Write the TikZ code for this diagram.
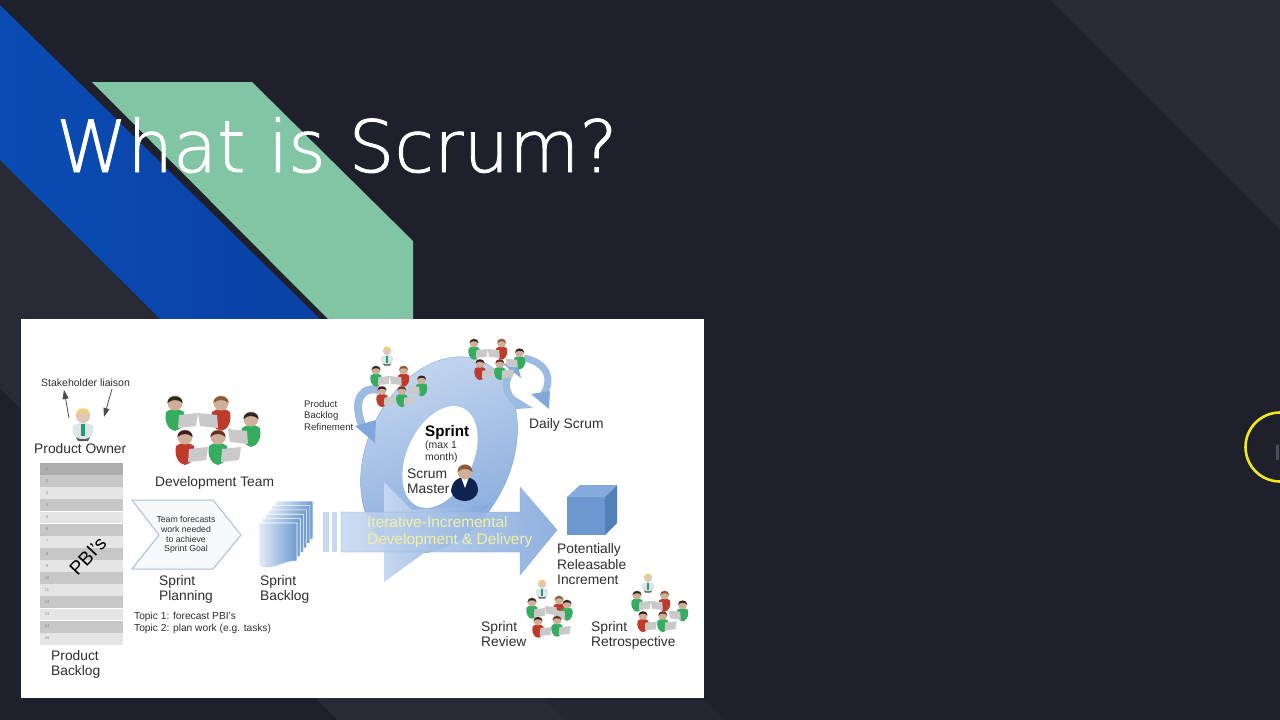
\documentclass[tikz,border=0pt]{standalone}
\usepackage{fontspec}
\setmainfont{Liberation Sans}
\newfontfamily\titlefont[FakeBold=1.2]{DejaVu Sans ExtraLight}
\usetikzlibrary{arrows.meta}
\definecolor{bgdark}{HTML}{1E202B}
\definecolor{bglite}{HTML}{282A35}
\definecolor{bgfaint}{HTML}{23252F}
\definecolor{royalL}{HTML}{0A4CB4}
\definecolor{royalR}{HTML}{0B41A5}
\definecolor{mint}{HTML}{81C5A4}
\definecolor{skin}{HTML}{CFAF98}
\definecolor{shgreen}{HTML}{35AC5F}
\definecolor{shred}{HTML}{BE3B2B}
\definecolor{lap}{HTML}{C9C9C9}
\definecolor{ringb}{HTML}{9DBBE2}
\definecolor{ringL}{HTML}{C6D8F0}
\definecolor{ringR}{HTML}{82A7DB}
\definecolor{pageL}{HTML}{E2ECF8}
\definecolor{pageR}{HTML}{6F9BD0}
\definecolor{cubeF}{HTML}{6C98CF}
\definecolor{cubeT}{HTML}{84ABDB}
\definecolor{cubeS}{HTML}{5180B8}
\definecolor{chevF}{HTML}{F7FAFD}
\definecolor{chevD}{HTML}{A8BEDD}
\definecolor{txt}{HTML}{2E2E2E}
\definecolor{yel}{HTML}{F3F0A0}
\definecolor{pointer}{HTML}{F2E81E}
\definecolor{navy}{HTML}{0F2350}
\definecolor{blond}{HTML}{F0D080}
\definecolor{ownshirt}{HTML}{DCE6EA}
\definecolor{hairA}{HTML}{2C2822}
\definecolor{hairB}{HTML}{8A5A3A}
\definecolor{hairC}{HTML}{3A1E1E}
\definecolor{hairD}{HTML}{6B3328}
\newcommand{\dude}[6]{%
 \begin{scope}[shift={(#1,#2)},scale=#3]
  \fill[#5] (-9,9) .. controls (-11,18) and (-7,27) .. (0,28) .. controls (7,27) and (11,18) .. (9,9) .. controls (5,5) and (-5,5) .. cycle;
  \fill[skin] (0,0) circle [radius=7.5];
  \fill[#4] (-7.6,0) .. controls (-7.6,-9) and (7.6,-9) .. (7.6,0) .. controls (3,-4) and (-3,-4) .. cycle;
  \fill[lap] (#6*4,12) -- (#6*23,10) -- (#6*21,23) -- (#6*3,25) -- cycle;
 \end{scope}}
\newcommand{\team}[3]{%
 \dude{#1}{#2}{#3}{hairA}{shgreen}{1}
 \dude{#1+46*#3}{#2}{#3}{hairB}{shred}{-1}
 \dude{#1+76*#3}{#2+16*#3}{#3}{hairA}{shgreen}{-1}
 \dude{#1+10*#3}{#2+34*#3}{#3}{hairC}{shred}{1}
 \dude{#1+43*#3}{#2+34*#3}{#3}{hairD}{shgreen}{1}}
\newcommand{\owner}[3]{%
 \begin{scope}[shift={(#1,#2)},scale=#3]
  \fill[black!65] (-7,21) -- (7,21) -- (5,25) -- (-5,25) -- cycle;
  \fill[ownshirt] (-10,10) .. controls (-12,18) and (-8,23) .. (0,23) .. controls (8,23) and (12,18) .. (10,10) .. controls (5,6) and (-5,6) .. cycle;
  \fill[shgreen!70!teal] (-1.6,8) -- (1.6,8) -- (1.6,20) -- (-1.6,20) -- cycle;
  \fill[skin!70!white] (0,0) circle [radius=7];
  \fill[blond] (-7,-1) .. controls (-7,-10) and (7,-10) .. (7,-1) .. controls (3,-4) and (-3,-4) .. cycle;
 \end{scope}}
\tikzset{
 lab/.style={anchor=base west,inner sep=0pt,text=txt,font=\fontsize{13.8pt}{15pt}\selectfont,align=left},
 smalllab/.style={anchor=base west,inner sep=0pt,text=txt,font=\fontsize{10.2pt}{12pt}\selectfont},
 rownum/.style={inner sep=0pt,text=black!50,font=\fontsize{4pt}{4pt}\selectfont},
 blackarrow/.style={draw=black!70,line width=0.8pt,-{Triangle[length=9pt,width=6pt]}},
 yellab/.style={anchor=base west,inner sep=0pt,text=yel,font=\fontsize{15.4pt}{16pt}\selectfont}
}
\begin{document}
\begin{tikzpicture}[x=1pt,y=-1pt]
\useasboundingbox (0,0) rectangle (1280,720);
\clip (0,0) rectangle (1280,720);
\fill[bgdark] (0,0) rectangle (1280,720);
\fill[bglite] (1050,0) -- (1280,230) -- (1280,0) -- cycle;
\fill[bglite] (0,160) -- (160,320) -- (20,320) -- (20,408) -- (0,388) -- cycle;
\fill[bglite] (316,698) -- (543,698) -- (566,720) -- (338,720) -- cycle;
\fill[bgfaint] (543,698) -- (703,698) -- (725,720) -- (566,720) -- cycle;
\shade[left color=royalL,right color=royalR] (0,5) -- (320,319) -- (160,319) -- (0,160) -- cycle;
\fill[mint] (92,82) -- (252,82) -- (413,241) -- (413,319) -- (328,319) -- cycle;
\node[anchor=base west,inner sep=0pt,text=white,font=\titlefont\fontsize{72pt}{80pt}\selectfont] (title) at (56,172) {What is Scrum?};
% slide image panel
\fill[white] (21,319) rectangle (704,698);
% yellow pointer
\draw[draw=pointer,line width=2.6pt] (1280,447) circle [radius=34.5];
\fill[bgdark!80!white] (1276,445) rectangle (1279,460);
% product owner
\owner{83}{416}{1}
\node[smalllab,font=\fontsize{10.5pt}{12pt}\selectfont] (stake) at (41,386) {Stakeholder liaison};
\coordinate (ownerL) at (69,418);
\coordinate (ownerR) at (104,417);
\draw[blackarrow] (ownerL) -- (64,390);
\draw[blackarrow] (112,389) -- (ownerR);
\node[lab] (po) at (34,453.5) {Product Owner};
% product backlog table
\foreach \i in {1,...,15}{
 \pgfmathsetmacro{\ry}{463+(\i-1)*12.13}
 \ifnum\i=1 \def\rc{black!32}\else\ifodd\i \def\rc{black!10}\else \def\rc{black!22}\fi\fi
 \fill[\rc] (40,\ry) rectangle (59.6,\ry+11.9);
 \fill[\rc] (60.4,\ry) rectangle (123,\ry+11.9);
 \node[rownum] (n\i) at (47,\ry+5.8) {\i};
}
\node[inner sep=0pt,rotate=47,text=black,font=\fontsize{19pt}{20pt}\selectfont] (pbi) at (88,556) {PBI's};
\node[lab] (pb) at (51,660) {Product};
\node[lab] (pb2) at (51,675) {Backlog};
% development team
\team{175}{403}{1}
\node[lab] (dev) at (155,486) {Development Team};
% sprint planning chevron
\filldraw[fill=chevF,draw=chevD,line width=1pt] (132,500) -- (213,500) -- (241,535) -- (213,569) -- (132,569) -- (159,535) -- cycle;
\node[inner sep=0pt,align=center,text=txt,font=\fontsize{8.7pt}{9.7pt}\selectfont] (fc) at (186,535) {Team forecasts\\work needed\\to achieve\\Sprint Goal};
\node[lab] (sp) at (159,585) {Sprint};
\node[lab] (sp2) at (159,600) {Planning};
\node[smalllab] (t1) at (134,619) {Topic 1: forecast PBI's};
\node[smalllab] (t2) at (134,631) {Topic 2: plan work (e.g. tasks)};
% sprint backlog pages
\foreach \k in {5,4,3,2,1,0}{
 \shade[left color=pageL,right color=pageR,draw=white,line width=0.6pt]
  (259+3.2*\k,523-4.4*\k) -- (297+3.2*\k,523-4.4*\k) -- (297+3.2*\k,561-4.4*\k) .. controls (285+3.2*\k,560-4.4*\k) and (272+3.2*\k,572-4.4*\k) .. (259+3.2*\k,566-4.4*\k) -- cycle;
}
\node[lab] (sb) at (260,585) {Sprint};
\node[lab] (sb2) at (260,600) {Backlog};
% sprint cycle
\shade[left color=ringL,right color=ringR,shading angle=20,draw=ringR,line width=0.4pt] (439,455) ellipse [x radius=72,y radius=103,rotate=-25];
\shade[left color=ringL,right color=ringR,draw=none] (384,482) -- (412,510) -- (490,505) -- (384,582) -- cycle;
\fill[white] (440,457) ellipse [x radius=33,y radius=54,rotate=-25];
% refinement arrow
\draw[ringb,line width=8pt] (382,391) .. controls (362,384) and (352,400) .. (362,425);
\fill[ringR] (355,426) -- (375,443) -- (376,420) -- cycle;
% daily scrum arrows
\draw[ringb,line width=7pt] (524,358) .. controls (545,362) and (556,378) .. (541,398);
\fill[ringR] (531,394) -- (549,409) -- (550,391) -- cycle;
\draw[ringb,line width=7pt] (518,404) .. controls (502,394) and (504,376) .. (515,368);
\fill[ringR] (503,364) -- (517,362) -- (521,378) -- cycle;
\fill[ringb] (512,395) -- (533,408) -- (515,409) -- cycle;
% big arrow
\fill[ringL] (323,512) rectangle (329,552);
\fill[ringL] (332,512) rectangle (337,552);
\shade[left color=ringL,right color=ringR,fill opacity=0.88,draw=ringR,line width=0.3pt] (341,512) -- (520,512) -- (520,487) -- (557,530) -- (520,575) -- (520,552) -- (341,552) -- cycle;
\node[yellab] (it) at (367,527) {Iterative-Incremental};
\node[yellab] (it2) at (367,544) {Development \& Delivery};
% centre labels
\node[lab,font=\bfseries\fontsize{15.2pt}{16pt}\selectfont,text=black] (sprint) at (425,436) {Sprint};
\node[smalllab,font=\fontsize{10.4pt}{12pt}\selectfont] (mx) at (425,448) {(max 1};
\node[smalllab,font=\fontsize{10.4pt}{12pt}\selectfont] (mx2) at (425,460) {month)};
\node[lab] (sm) at (407,478) {Scrum};
\node[lab] (sm2) at (407,493) {Master};
% scrum master
\fill[navy] (451,491) .. controls (452,481) and (458,477) .. (465,477) .. controls (472,477) and (478,481) .. (478,491) .. controls (477,498) and (470,501) .. (465,501) .. controls (459,501) and (452,498) .. (451,491) -- cycle;
\fill[white] (461,477) -- (469,477) -- (465,488) -- cycle;
\fill[skin] (465,472) circle [radius=7.5];
\fill[hairB] (457.5,472) .. controls (457.5,462) and (472.5,462) .. (472.5,472) .. controls (468,468) and (462,468) .. cycle;
% upper teams
\owner{387}{351}{0.58}
\team{376}{370}{0.6}
\team{474}{343}{0.6}
\node[smalllab,font=\fontsize{9.6pt}{11pt}\selectfont] (pbr1) at (304,407) {Product};
\node[smalllab,font=\fontsize{9.6pt}{11pt}\selectfont] (pbr2) at (304,418) {Backlog};
\node[smalllab,font=\fontsize{9.6pt}{11pt}\selectfont] (pbr3) at (304,430) {Refinement};
\node[lab] (ds) at (529,428) {Daily Scrum};
% increment cube
\fill[cubeF] (567,497) rectangle (605,535);
\fill[cubeT] (567,497) -- (580,485) -- (617,485) -- (605,497) -- cycle;
\fill[cubeS] (605,497) -- (617,485) -- (617,523) -- (605,535) -- cycle;
\node[lab] (pi1) at (557,553) {Potentially};
\node[lab] (pi2) at (557,569) {Releasable};
\node[lab] (pi3) at (557,584) {Increment};
% review and retrospective
\owner{542}{584}{0.58}
\dude{532}{602}{0.6}{hairA}{shgreen}{1}
\dude{559}{600}{0.6}{hairB}{shred}{-1}
\dude{567}{604}{0.6}{hairA}{shgreen}{-1}
\dude{538}{621}{0.6}{hairC}{shred}{1}
\dude{557}{620}{0.6}{hairD}{shgreen}{1}
\owner{648}{578}{0.58}
\team{637}{595}{0.6}
\node[lab] (sr) at (481,631) {Sprint};
\node[lab] (sr2) at (481,646) {Review};
\node[lab] (re) at (591,631) {Sprint};
\node[lab] (re2) at (591,646) {Retrospective};
\end{tikzpicture}
\end{document}
